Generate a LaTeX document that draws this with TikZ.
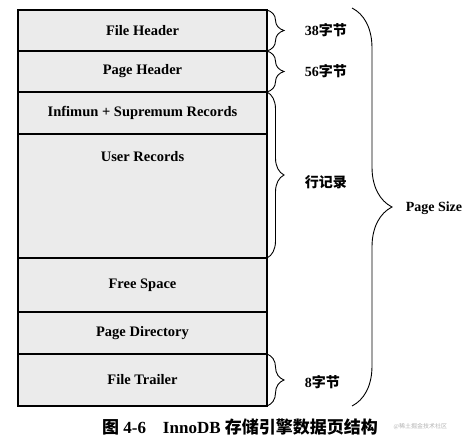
\documentclass[tikz,border=0pt]{standalone}
\usepackage{fontspec}
\setmainfont{Liberation Serif}
\newfontfamily\cjk{Noto Sans CJK SC}
\usetikzlibrary{positioning,decorations.pathreplacing}

\begin{document}
\begin{tikzpicture}[
  x=1pt, y=-1pt,
  sec/.style={rectangle, draw, line width=1.6pt, fill=gray!16, outer sep=0pt, inner sep=0pt, minimum width=249pt, align=center, font=\fontsize{14.5}{16}\selectfont\bfseries},
  brc/.style={decorate, decoration={brace, amplitude=17pt}, line width=0.9pt},
  bigbrc/.style={decorate, decoration={brace, amplitude=40pt}, line width=0.9pt},
  lbl/.style={anchor=west, font=\fontsize{14}{16}\selectfont\bfseries}
]
  \useasboundingbox (0,0) rectangle (474,441);

  \node[sec, minimum height=41pt, anchor=north west] (fhead) at (18,10) {File Header};
  \node[sec, minimum height=41pt, below=0pt of fhead] (phead) {Page Header};
  \node[sec, minimum height=42pt, below=0pt of phead] (infsup) {Infimun + Supremum Records};
  \node[sec, minimum height=124pt, below=0pt of infsup,
        label={[anchor=north, yshift=-14pt, font=\fontsize{14.5}{16}\selectfont\bfseries]north:User Records}] (urec) {};
  \node[sec, minimum height=54pt, below=0pt of urec] (free) {Free Space};
  \node[sec, minimum height=42pt, below=0pt of free] (pdir) {Page Directory};
  \node[sec, minimum height=52pt, below=0pt of pdir] (ftrail) {File Trailer};

  % braces on the right
  \draw[brc] (fhead.north east) -- (fhead.south east) node[midway, lbl, xshift=34pt] {38{\cjk 字节}};
  \draw[brc] (phead.north east) -- (phead.south east) node[midway, lbl, xshift=34pt] {56{\cjk 字节}};
  \draw[brc] (infsup.north east) -- (urec.south east) node[midway, lbl, xshift=34pt, yshift=-7pt] {{\cjk 行记录}};
  \draw[brc] (ftrail.north east) -- (ftrail.south east) node[midway, lbl, xshift=34pt, yshift=-2pt] {8{\cjk 字节}};

  \coordinate (ptop) at (352,8);
  \coordinate (pbot) at (352,406);
  \draw[bigbrc] (ptop) -- (pbot) node[midway, lbl, xshift=50pt, yshift=-1pt] {Page Size};

  \node[font=\fontsize{17}{19}\selectfont\bfseries] (cap) at (240,427) {{\cjk 图} 4-6\quad InnoDB {\cjk 存储引擎数据页结构}};
  \node[font=\fontsize{6}{7}\selectfont, gray!60, anchor=west] (wm) at (390,427) {@{\cjk 稀土掘金技术社区}};
\end{tikzpicture}
\end{document}
